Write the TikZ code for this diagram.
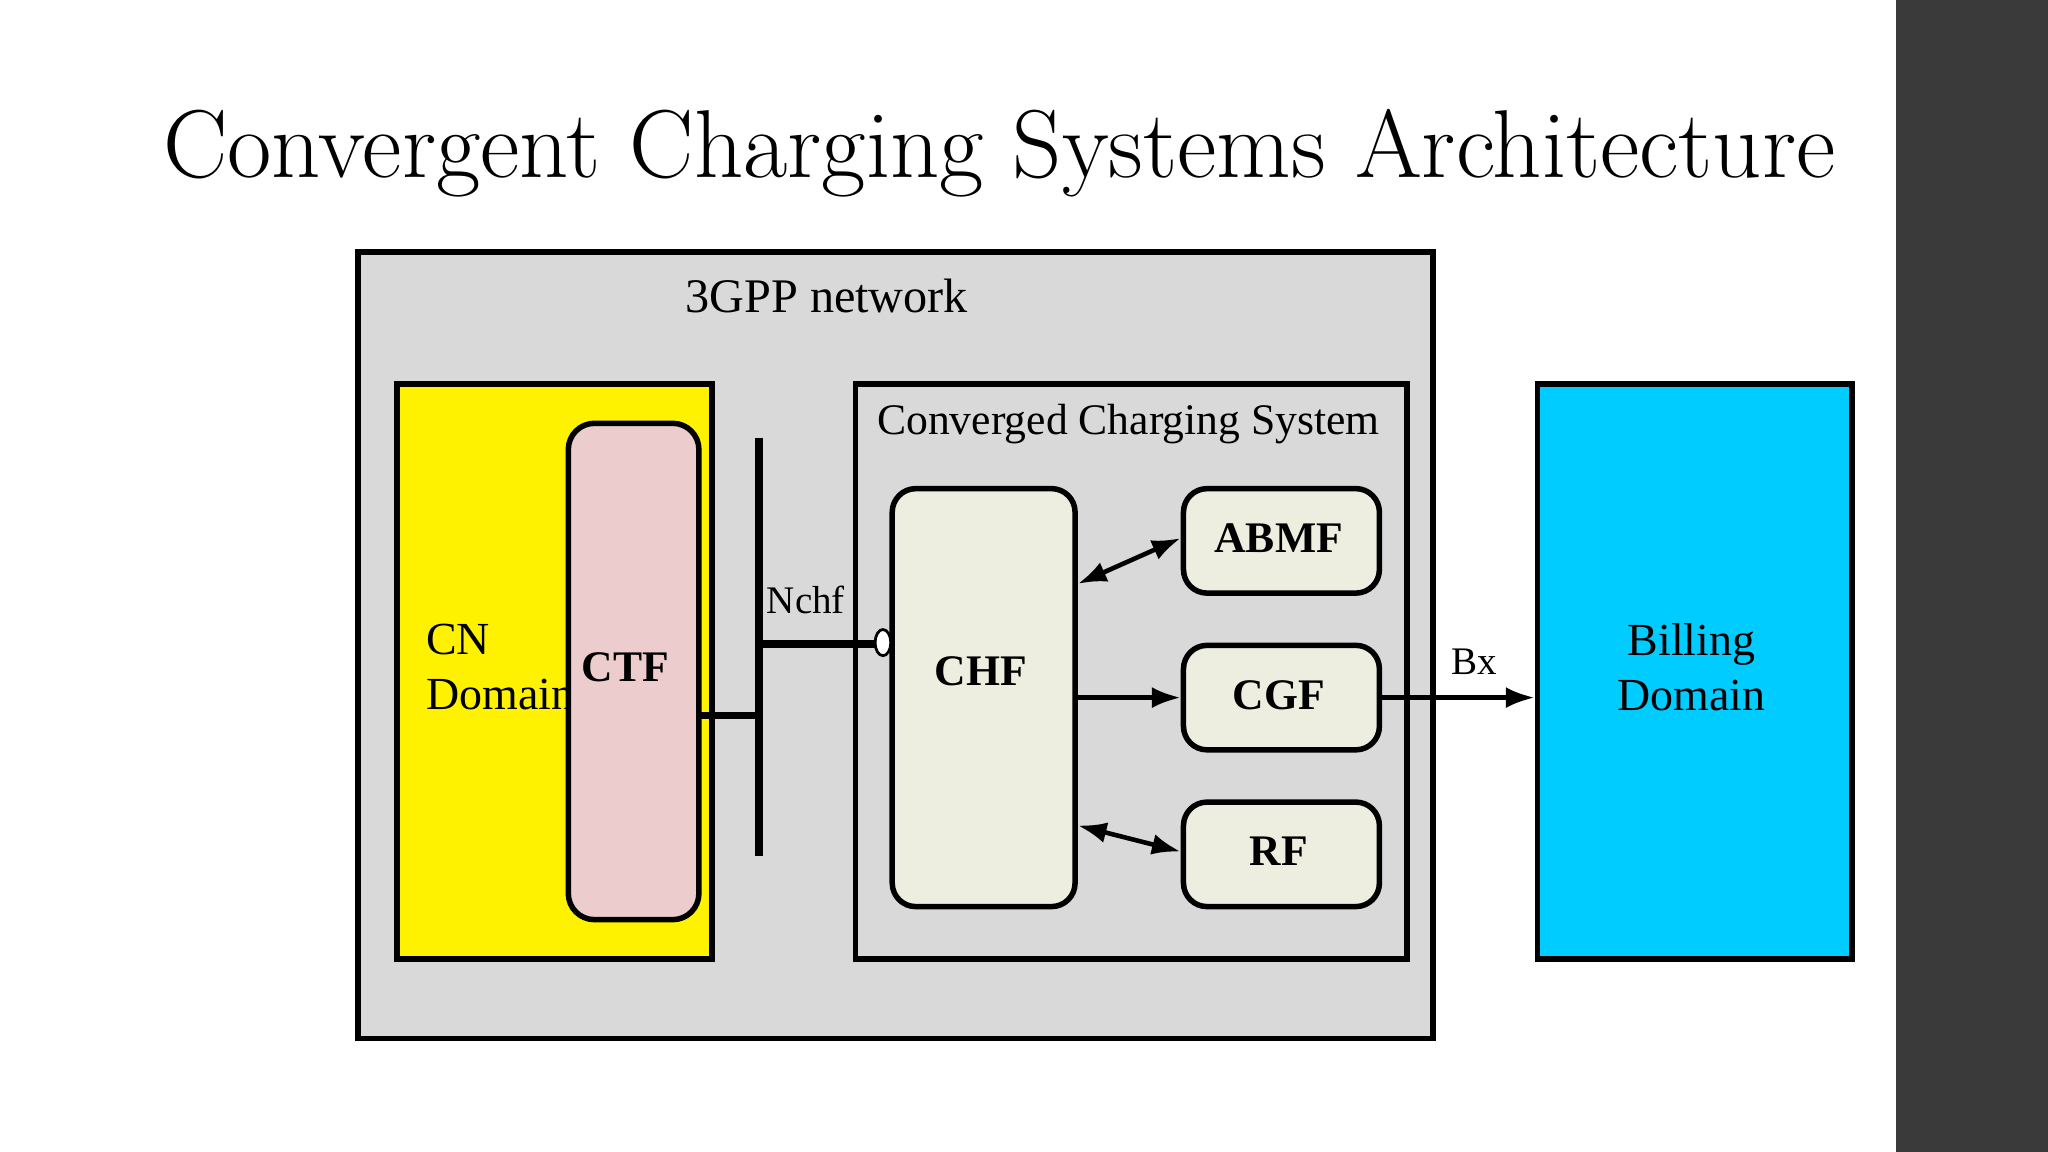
\documentclass[tikz,border=0pt]{standalone}
\usepackage{fontspec}
\newfontfamily\tms{Liberation Serif}
\usetikzlibrary{arrows.meta,shapes.geometric}
\definecolor{bar}{HTML}{3A3A3B}
\definecolor{gbox}{HTML}{D9D9D9}
\definecolor{pinkf}{HTML}{ECCCCC}
\definecolor{creamf}{HTML}{EEEEE0}
\definecolor{cyanf}{HTML}{00CCFF}
\begin{document}
\begin{tikzpicture}[x=0.01cm,y=-0.01cm,
  box/.style={draw=black,line width=1.2pt},
  rbox/.style={draw=black,line width=1.2pt,rounded corners=0.18cm},
  lbl/.style={font=\tms\fontsize{10}{12}\selectfont},
  bl/.style={font=\tms\bfseries\fontsize{9.5}{11}\selectfont},
  arr/.style={line width=1pt,-{Latex[length=0.22cm,width=0.16cm]}},
  darr/.style={line width=1pt,{Latex[length=0.22cm,width=0.16cm]}-{Latex[length=0.22cm,width=0.16cm]}}]
\useasboundingbox (0,0) rectangle (1568,882);
\fill[white] (0,0) rectangle (1452,882);
\fill[bar] (1452,0) rectangle (1568,882);
\node[font=\fontsize{21}{25}\selectfont] (title) at (765,117) {Convergent Charging Systems Architecture};
\node[box,fill=gbox,minimum width=823*0.01cm,minimum height=602*0.01cm,anchor=north west] (net) at (272,191) {};
\node[lbl,font=\tms\fontsize{10.5}{12}\selectfont] (netl) at (633,227) {3GPP network};
\node[box,fill=yellow,minimum width=241*0.01cm,minimum height=440*0.01cm,anchor=north west] (cn) at (302,292) {};
\node[lbl,align=left,anchor=west] (cnl) at (314,511) {CN\\Domain};
\node[rbox,fill=pinkf,minimum width=100*0.01cm,minimum height=380*0.01cm,anchor=north west,rounded corners=0.2cm] (ctf) at (433,322) {};
\node[bl] at (479,511) {CTF};
\node[box,fill=gbox,minimum width=422*0.01cm,minimum height=440*0.01cm,anchor=north west] (ccs) at (653,292) {};
\node[lbl,font=\tms\fontsize{9.5}{11}\selectfont] (ccsl) at (864,325) {Converged Charging System};
\node[rbox,fill=creamf,minimum width=140*0.01cm,minimum height=320*0.01cm,anchor=north west] (chf) at (681,372) {};
\node[bl] at (751,514) {CHF};
\node[rbox,fill=creamf,minimum width=150*0.01cm,minimum height=80*0.01cm,anchor=north west] (abmf) at (904,372) {};
\node[bl] at (979,412) {ABMF};
\node[rbox,fill=creamf,minimum width=150*0.01cm,minimum height=80*0.01cm,anchor=north west] (cgf) at (904,492) {};
\node[bl] at (979,532) {CGF};
\node[rbox,fill=creamf,minimum width=150*0.01cm,minimum height=80*0.01cm,anchor=north west] (rf) at (904,612) {};
\node[bl] at (979,652) {RF};
\node[box,fill=cyanf,minimum width=241*0.01cm,minimum height=440*0.01cm,anchor=north west] (bill) at (1175,292) {};
\node[lbl,align=center] (billl) at (1295,511) {Billing\\Domain};
% bus
\coordinate (bt) at (581,335); \coordinate (bb) at (581,655);
\draw[line width=1.6pt] (bt) -- (bb);
\draw[line width=1.6pt] (533,548) -- (581,548);
\draw[line width=1.6pt] (581,493) -- (670,493);
\node[draw=black,fill=white,ellipse,inner sep=0pt,minimum width=0.12cm,minimum height=0.2cm,line width=0.6pt] (jack) at (676,492) {};
\node[font=\tms\fontsize{8.5}{10}\selectfont] (nchf) at (617,459) {Nchf};
% arrows
\draw[darr] (chf.east |- 0,447) -- (abmf.west |- 0,412);
\draw[arr] (chf.east |- cgf.west) -- (cgf.west);
\draw[darr] (chf.east |- 0,632) -- (rf.west |- 0,652);
\draw[arr] (cgf.east) -- (bill.west |- cgf.east);
\node[font=\tms\fontsize{8.5}{10}\selectfont] (bx) at (1129,507) {Bx};
\end{tikzpicture}
\end{document}
